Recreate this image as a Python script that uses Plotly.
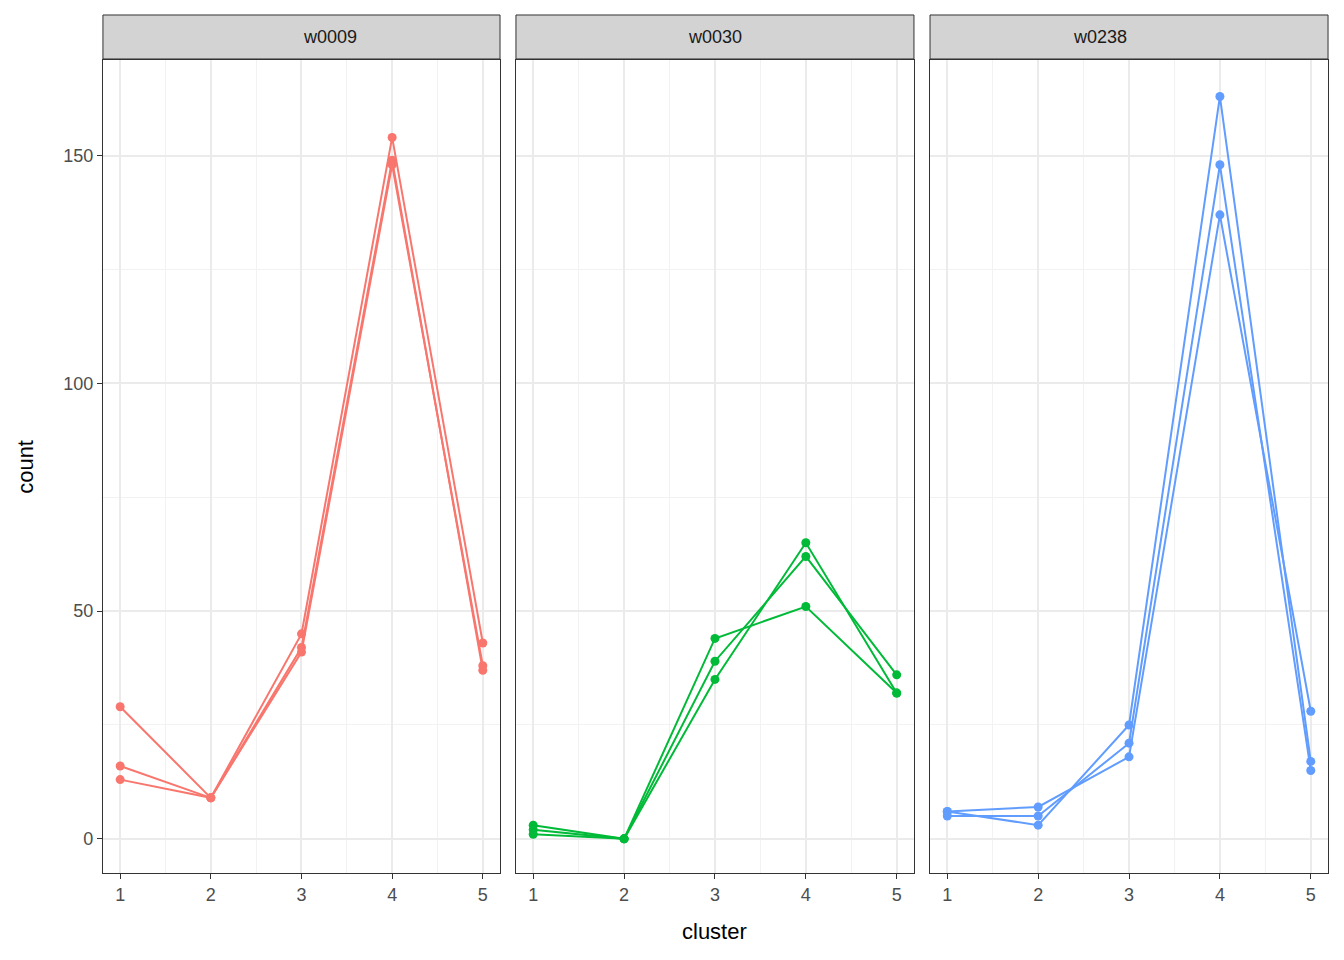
import plotly.graph_objects as go

clusters = [1, 2, 3, 4, 5]
panels = ["w0009", "w0030", "w0238"]
colors = ["#F8766D", "#00BA38", "#619CFF"]

w0009 = [[29, 9, 42, 149, 37], [16, 9, 45, 154, 43], [13, 9, 41, 148, 38]]
w0030 = [[3, 0, 35, 65, 32], [2, 0, 39, 62, 36], [1, 0, 44, 51, 32]]
w0238 = [[6, 3, 25, 163, 17], [6, 7, 18, 137, 28], [5, 5, 21, 148, 15]]
series = [w0009, w0030, w0238]

# page has an 8px body margin, so the figure is 1328x944
xdom = [(0.0715, 0.3705), (0.3825, 0.6822), (0.6943, 0.994)]
ydom = (0.0837, 0.9449)

fig = go.Figure()
for i, (name, runs) in enumerate(zip(panels, series)):
    ax = "" if i == 0 else str(i + 1)
    for run in runs:
        fig.add_trace(go.Scatter(x=clusters, y=run, mode="lines+markers",
                                 line=dict(color=colors[i], width=2),
                                 marker=dict(color=colors[i], size=9),
                                 xaxis="x" + ax, yaxis="y" + ax, showlegend=False))
    common = dict(showline=True, mirror=True, linecolor="#333333", linewidth=1,
                  gridcolor="#EBEBEB", gridwidth=1.5, zeroline=False,
                  ticklen=5, tickcolor="#333333",
                  tickfont=dict(size=18, color="#4D4D4D"),
                  minor=dict(showgrid=True, gridcolor="#F2F2F2", gridwidth=1))
    fig.layout["xaxis" + ax] = dict(domain=xdom[i], range=[0.81, 5.19], tickvals=clusters,
                                    anchor="y" + ax, ticks="outside", **common)
    fig.layout["xaxis" + ax]["minor"]["dtick"] = 0.5
    fig.layout["xaxis" + ax]["minor"]["tick0"] = 0.5
    fig.layout["yaxis" + ax] = dict(domain=ydom, range=[-7.5, 171], tickvals=[0, 50, 100, 150],
                                    anchor="x" + ax, showticklabels=(i == 0),
                                    ticks="outside" if i == 0 else "", **common)
    fig.layout["yaxis" + ax]["minor"]["dtick"] = 25
    fig.layout["yaxis" + ax]["minor"]["tick0"] = 25
    fig.add_shape(type="rect", xref="paper", yref="paper", x0=xdom[i][0], x1=xdom[i][1],
                  y0=0.946, y1=0.9926, fillcolor="#D3D3D3", line=dict(color="#333333", width=1))
    fig.add_annotation(text=name, xref="paper", yref="paper", x=sum(xdom[i]) / 2, y=0.9693,
                       yanchor="middle", showarrow=False, font=dict(size=18, color="#1A1A1A"))

fig.add_annotation(text="cluster", xref="paper", yref="paper", x=0.532, y=0.022,
                   yanchor="middle", showarrow=False, font=dict(size=22, color="black"))
fig.add_annotation(text="count", xref="paper", yref="paper", x=0.0136, y=0.514,
                   textangle=-90, xanchor="center", showarrow=False, font=dict(size=22, color="black"))

fig.update_layout(width=1328, height=944, margin=dict(l=0, r=0, t=0, b=0),
                  plot_bgcolor="white", paper_bgcolor="white",
                  font=dict(family="Liberation Sans, Arial"))
fig.write_html("out.html")
